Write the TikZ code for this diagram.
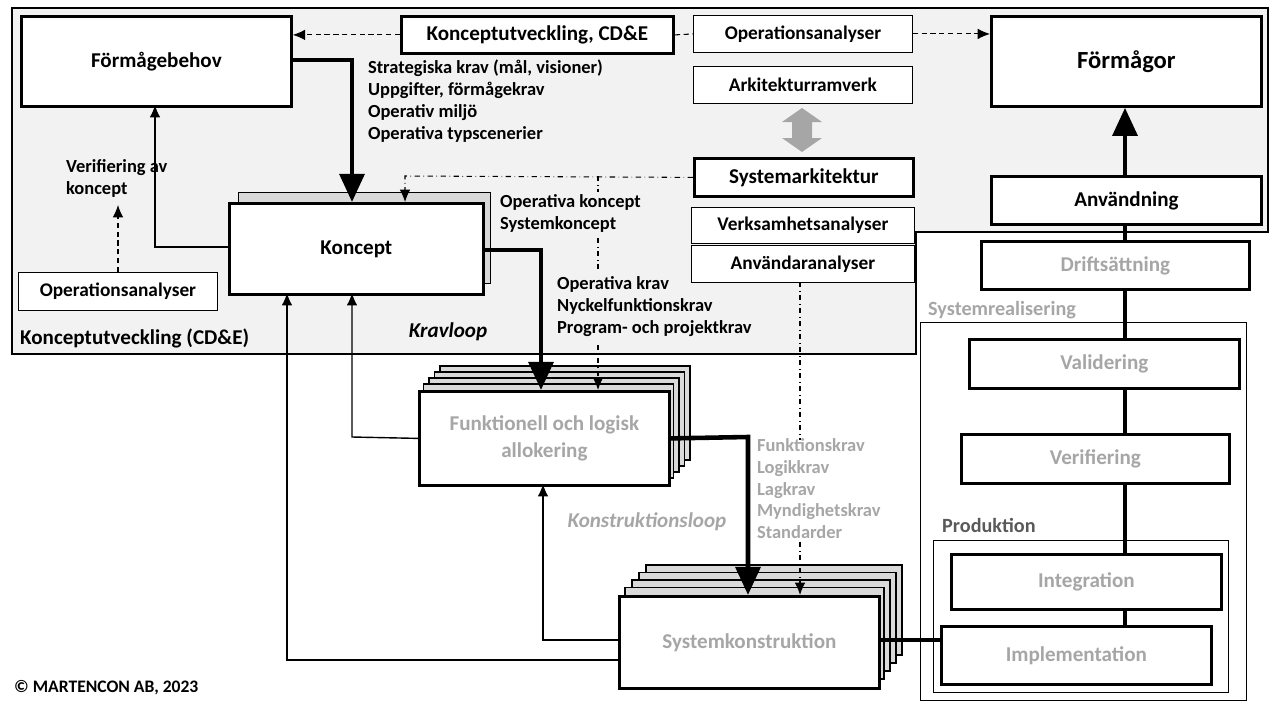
\documentclass[tikz,border=0pt]{standalone}
\usepackage{fontspec}
\setmainfont{Carlito}
\usetikzlibrary{arrows.meta}
\definecolor{panel}{HTML}{F2F2F2}
\definecolor{stack}{HTML}{D9D9D9}
\definecolor{gtxt}{HTML}{A6A6A6}
\begin{document}
\begin{tikzpicture}[x=0.02cm,y=-0.02cm,
  thickbox/.style={draw,line width=1.6pt,fill=white,font=\bfseries\fontsize{12}{15}\selectfont,align=center},
  thinbox/.style={draw,line width=0.5pt,fill=white,font=\bfseries\fontsize{11}{12}\selectfont,align=center},
  greybox/.style={thickbox,text=gtxt},
  lbl/.style={font=\bfseries\fontsize{10.5}{12.5}\selectfont,align=left,anchor=north west,inner sep=1pt},
  glbl/.style={lbl,text=gtxt},
  dsh/.style={densely dashed,line width=0.6pt,-{Latex[length=7pt,width=6pt]}},
  dd/.style={dash dot,line width=0.6pt,-{Latex[length=7pt,width=6pt]}},
  thn/.style={line width=0.8pt,-{Latex[length=7pt,width=6pt]}},
  thk/.style={line width=2.6pt,-{Triangle[length=16pt,width=14pt]}},
]
\useasboundingbox (0,0) rectangle (1280,720);
% panel
\draw[fill=panel,line width=1.4pt] (12,8) -- (1268,8) -- (1268,232) -- (916,232) -- (916,354) -- (12,354) -- cycle;
% frames right
\draw[line width=0.5pt] (920,322) rectangle (1246,700);
\draw[line width=0.5pt] (933,540) rectangle (1228,692);
\node[font=\bfseries\fontsize{11.5}{12}\selectfont,text=gtxt,anchor=west] (sr) at (922,310) {Systemrealisering};
\node[font=\bfseries\fontsize{11.5}{12}\selectfont,text=black!65,anchor=west] (pr) at (936,525) {Produktion};
% main boxes
\node[thickbox,anchor=north west,minimum width=5.4cm,minimum height=1.8cm] (fb) at (20,15) {Förmågebehov};
\node[thickbox,anchor=north west,minimum width=5.4cm,minimum height=1.8cm,font=\bfseries\fontsize{14}{16}\selectfont] (fo) at (990,15) {Förmågor};
\node[thickbox,anchor=north west,minimum width=5.44cm,minimum height=0.74cm] (cde) at (400,15) {Konceptutveckling, CD\&E};
\node[thinbox,anchor=north west,minimum width=4.38cm,minimum height=0.74cm] (oa1) at (693,15) {Operationsanalyser};
\node[thinbox,anchor=north west,minimum width=4.38cm,minimum height=0.74cm] (ark) at (693,66) {Arkitekturramverk};
\node[thickbox,anchor=north west,minimum width=4.38cm,minimum height=0.76cm] (sa) at (693,157) {Systemarkitektur};
\node[thinbox,anchor=north west,minimum width=4.46cm,minimum height=0.73cm] (va) at (691,207) {Verksamhetsanalyser};
\node[thinbox,anchor=north west,minimum width=4.46cm,minimum height=0.74cm] (aa) at (691,245) {Användaranalyser};
\node[thickbox,anchor=north west,minimum width=5.4cm,minimum height=0.96cm] (an) at (990,175) {Användning};
\fill[stack,draw=black,line width=0.5pt] (238,192) rectangle (490,283);
\node[thickbox,anchor=north west,minimum width=5.08cm,minimum height=1.82cm] (ko) at (228,202) {Koncept};
\node[thinbox,anchor=north west,minimum width=3.98cm,minimum height=0.76cm] (oa2) at (18,272) {Operationsanalyser};
% grey double arrow
\fill[black!35] (802,108) -- (822,122) -- (812,122) -- (812,138) -- (822,138) -- (802,152) -- (782,138) -- (792,138) -- (792,122) -- (782,122) -- cycle;
% stacks
\foreach \k in {4,3,2,1}{
  \draw[fill=stack,line width=0.6pt] (418+5.5*\k,390-6*\k) rectangle (668+5.5*\k,484-6*\k);
  \draw[fill=stack,line width=0.6pt] (618+7*\k,595-7.5*\k) rectangle (878+6*\k,687-8*\k);}
\node[greybox,anchor=north west,minimum width=5cm,minimum height=1.88cm] (fl) at (418,390) {Funktionell och logisk\\allokering};
\node[greybox,anchor=north west,minimum width=5.2cm,minimum height=1.84cm] (sk) at (618,595) {Systemkonstruktion};
% right column
\node[greybox,anchor=north west,minimum width=5.36cm,minimum height=0.96cm] (dr) at (980,240) {Driftsättning};
\node[greybox,anchor=north west,minimum width=5.4cm,minimum height=0.98cm] (vl) at (968,338) {Validering};
\node[greybox,anchor=north west,minimum width=5.36cm,minimum height=0.98cm] (vf) at (960,433) {Verifiering};
\node[greybox,anchor=north west,minimum width=5.4cm,minimum height=1.1cm] (in) at (950,553) {Integration};
\node[greybox,anchor=north west,minimum width=5.4cm,minimum height=1.16cm] (im) at (940,625) {Implementation};
\coordinate (vx) at (1125,0);
\draw[line width=2.6pt] (1125,625) -- (1125,608) (1125,553) -- (1125,482) (1125,433) -- (1125,387) (1125,338) -- (1125,288) (1125,240) -- (1125,223);
\draw[thk] (an.north -| vx) -- (fo.south -| vx);
\draw[line width=2.6pt] (sk.east |- 0,640) -- (im.west |- 0,640);
% texts
\node[lbl] (t1) at (366,58) {Strategiska krav (mål, visioner)\\Uppgifter, förmågekrav\\Operativ miljö\\Operativa typscenerier};
\node[lbl] (t2) at (64,157) {Verifiering av\\koncept};
\draw[dd] (sa.west) -- (405,176) -- (405,202);
\draw[dash dot,line width=0.6pt] (598,176) -- (598,192) (598,238) -- (598,272);
\draw[dd] (598,345) -- (598,390);
\node[lbl] (t3) at (498,192) {Operativa koncept\\Systemkoncept};
\node[lbl] (t4) at (555,274) {Operativa krav\\Nyckelfunktionskrav\\Program- och projektkrav};
\node[glbl] (t5) at (755,436) {Funktionskrav\\Logikkrav\\Lagkrav\\Myndighetskrav\\Standarder};
\node[font=\bfseries\fontsize{12}{14}\selectfont,anchor=west] (cl) at (14,338) {Konceptutveckling (CD\&E)};
\node[font=\bfseries\itshape\fontsize{12}{14}\selectfont] (kl) at (448,332) {Kravloop};
\node[font=\bfseries\itshape\fontsize{12}{14}\selectfont,text=gtxt] (kn) at (647,522) {Konstruktionsloop};
\node[font=\bfseries\fontsize{10}{11}\selectfont,anchor=west] (cp) at (8,688) {© MARTENCON AB, 2023};
% connectors
\draw[dsh] (cde.west) -- (fb.east |- cde.west);
\draw[densely dashed,line width=0.6pt] (cde.east) -- (oa1.west);
\draw[dsh] (oa1.east) -- (fo.west |- oa1.east);
\draw[thk] (fb.east |- 0,60) -- (352,60) -- (352,202);
\draw[thn] (ko.west |- 0,247) -- (155,247) -- (155,105);
\draw[dsh] (oa2.north -| 118,0) -- (118,205);
\draw[thk] (ko.east |- 0,250) -- (541,250) -- (541,390);
\draw[dash dot,line width=0.6pt] (800,282) -- (800,440);
\draw[dd] (800,542) -- (800,595);
\draw[thn] (fl.west) -- (352,437) -- (352,293);
\draw[thk] (fl.east) -- (748,437) -- (748,595);
\draw[thn] (sk.west |- 0,640) -- (543,640) -- (543,484);
\draw[thn] (sk.west |- 0,660) -- (287,660) -- (287,293);
\end{tikzpicture}
\end{document}
